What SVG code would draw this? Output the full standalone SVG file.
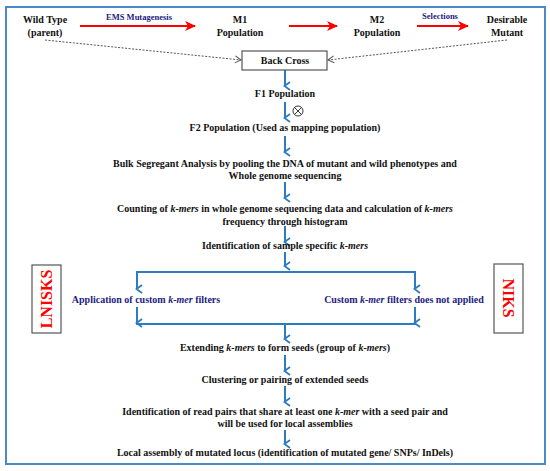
<svg xmlns="http://www.w3.org/2000/svg" width="550" height="471" viewBox="0 0 550 471">
<defs>
<style>
text{font-family:'Liberation Serif','DejaVu Serif',serif;font-weight:bold;font-size:10px;fill:#111;text-anchor:middle}
.nv{fill:#1c1c80}
.sm{font-size:8.5px}
.lab{font-size:16px;fill:#f00;font-weight:bold}
.bl{stroke:#2e7cc0;stroke-width:2;fill:none}
.rd{stroke:#f00;stroke-width:2;fill:none}
.dsh{stroke:#555;stroke-width:1;stroke-dasharray:2,1.5;fill:none}
.box{fill:#fff;stroke:#555;stroke-width:1.2}
</style>
<marker id="ab" markerWidth="10" markerHeight="10" refX="5" refY="8" orient="auto-start-reverse" markerUnits="userSpaceOnUse" viewBox="0 0 10 10">
<path d="M1,3 L5,8.5 L9,3" fill="none" stroke="#2e7cc0" stroke-width="1.8"/>
</marker>
<marker id="ar" markerWidth="12" markerHeight="10" refX="10" refY="5" orient="auto" markerUnits="userSpaceOnUse" viewBox="0 0 12 10">
<path d="M0,0 L11,5 L0,10 L3,5 Z" fill="#f00"/>
</marker>
<marker id="ad" markerWidth="10" markerHeight="10" refX="8" refY="5" orient="auto" markerUnits="userSpaceOnUse" viewBox="0 0 10 10">
<path d="M2,1.5 L8,5 L2,8.5" fill="none" stroke="#555" stroke-width="1"/>
</marker>
</defs>
<rect x="6" y="7" width="539" height="457" fill="#fff" stroke="#4a8ac8" stroke-width="2"/>

<g id="connectors">
<path class="rd" d="M80,26 H195" marker-end="url(#ar)"/>
<path class="rd" d="M289,26 H337" marker-end="url(#ar)"/>
<path class="rd" d="M417,26 H468" marker-end="url(#ar)"/>
<path class="dsh" d="M45,40 L241,60" marker-end="url(#ad)"/>
<path class="dsh" d="M507,40 L328,60" marker-end="url(#ad)"/>
<path class="bl" d="M285,70 V86" marker-end="url(#ab)"/>
<path class="bl" d="M285,102 V118" marker-end="url(#ab)"/>
<path class="bl" d="M285,136 V152" marker-end="url(#ab)"/>
<path class="bl" d="M285,182 V198" marker-end="url(#ab)"/>
<path class="bl" d="M285,226 V242" marker-end="url(#ab)"/>
<path class="bl" d="M285,252 V266" marker-end="url(#ab)"/>
<path class="bl" d="M137,289 V272 H415 V289" marker-start="url(#ab)" marker-end="url(#ab)"/>
<path class="bl" d="M137,307 V324 H415 V307"/>
<path class="bl" d="M137,307 V323" marker-end="url(#ab)"/>
<path class="bl" d="M415,307 V323" marker-end="url(#ab)"/>
<path class="bl" d="M285,324 V339" marker-end="url(#ab)"/>
<path class="bl" d="M285,355 V371" marker-end="url(#ab)"/>
<path class="bl" d="M285,386 V402" marker-end="url(#ab)"/>
<path class="bl" d="M285,430 V444" marker-end="url(#ab)"/>
</g>

<g id="wild"><text x="45" y="23">Wild Type</text><text x="45" y="36">(parent)</text></g>
<g id="ems"><text class="nv sm" x="139" y="20">EMS Mutagenesis</text></g>
<g id="m1"><text x="240" y="23">M1</text><text x="240" y="36">Population</text></g>
<g id="m2"><text x="377" y="23">M2</text><text x="377" y="36">Population</text></g>
<g id="sel"><text class="nv sm" x="440" y="19">Selections</text></g>
<g id="desirable"><text x="507" y="23">Desirable</text><text x="507" y="36">Mutant</text></g>
<g id="backcross"><rect class="box" x="242" y="51" width="85" height="19"/><text x="285" y="64">Back Cross</text></g>
<g id="f1"><text x="285" y="97">F1 Population</text>
<circle cx="298" cy="111" r="5" fill="none" stroke="#222" stroke-width="0.9"/><path d="M294.5,107.5 L301.5,114.5 M301.5,107.5 L294.5,114.5" stroke="#222" stroke-width="0.9"/></g>
<g id="f2"><text x="285" y="131">F2 Population (Used as mapping population)</text></g>
<g id="bsa"><text x="285" y="167">Bulk Segregant Analysis by pooling the DNA of mutant and wild phenotypes and</text><text x="285" y="179">Whole genome sequencing</text></g>
<g id="count"><text x="285" y="212">Counting of <tspan font-style="italic">k-mers</tspan> in whole genome sequencing data and calculation of <tspan font-style="italic">k-mers</tspan></text><text x="285" y="225">frequency through histogram</text></g>
<g id="ident"><text x="285" y="249">Identification of sample specific <tspan font-style="italic">k-mers</tspan></text></g>
<g id="lnisks"><rect class="box" x="32" y="265" width="29" height="68"/><text class="lab" transform="translate(52,299) rotate(-90)">LNISKS</text></g>
<g id="niks"><rect class="box" x="494" y="264" width="29" height="69"/><text class="lab" transform="translate(503,298) rotate(90)">NIKS</text></g>
<g id="app"><text class="nv" x="146" y="303">Application of custom <tspan font-style="italic">k-mer</tspan> filters</text></g>
<g id="custom"><text class="nv" x="404" y="303">Custom <tspan font-style="italic">k-mer</tspan> filters does not applied</text></g>
<g id="extend"><text x="285" y="351">Extending <tspan font-style="italic">k-mers</tspan> to form seeds (group of <tspan font-style="italic">k-mers</tspan>)</text></g>
<g id="cluster"><text x="285" y="383">Clustering or pairing of extended seeds</text></g>
<g id="reads"><text x="285" y="415">Identification of read pairs that share at least one <tspan font-style="italic">k-mer</tspan> with a seed pair and</text><text x="285" y="427">will be used for local assemblies</text></g>
<g id="local"><text x="285" y="456">Local assembly of mutated locus (identification of mutated gene/ SNPs/ InDels)</text></g>
</svg>
